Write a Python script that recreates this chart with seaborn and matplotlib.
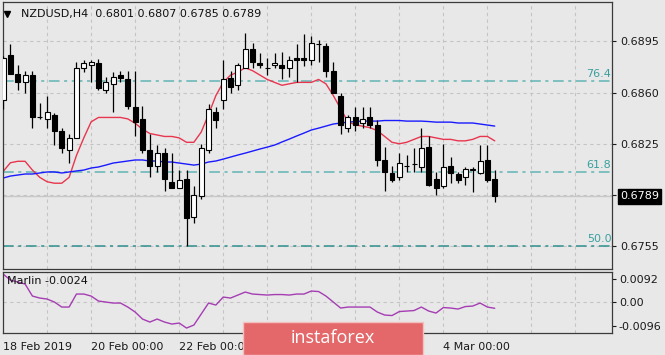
import numpy as np
import pandas as pd
import matplotlib
matplotlib.use("Agg")
import matplotlib.pyplot as plt
import seaborn as sns
from matplotlib.patches import Rectangle
from matplotlib.transforms import blended_transform_factory

# NZDUSD H4 candles, 18 Feb - 5 Mar 2019
opens = [0.6855, 0.6886, 0.6873, 0.6867, 0.6872, 0.6843, 0.6842, 0.6845, 0.6834, 0.6821,
         0.6829, 0.6877, 0.6879, 0.6880, 0.6862, 0.6866, 0.6872, 0.6869, 0.6850, 0.6842,
         0.6821, 0.6810, 0.6819, 0.6799, 0.6795, 0.6801, 0.6775, 0.6789, 0.6821, 0.6847,
         0.6855, 0.6870, 0.6865, 0.6877, 0.6890, 0.6880, 0.6877, 0.6879, 0.6879, 0.6877,
         0.6884, 0.6884, 0.6882, 0.6893, 0.6892, 0.6875, 0.6858, 0.6836, 0.6843, 0.6839,
         0.6843, 0.6838, 0.6814, 0.6805, 0.6802, 0.6810, 0.6811, 0.6809, 0.6823, 0.6801,
         0.6796, 0.6810, 0.6804, 0.6802, 0.6807, 0.6805, 0.6814, 0.6801]
highs = [0.6885, 0.6893, 0.6879, 0.6875, 0.6875, 0.6853, 0.6858, 0.6846, 0.6836, 0.6832,
         0.6881, 0.6882, 0.6882, 0.6883, 0.6871, 0.6874, 0.6875, 0.6875, 0.6875, 0.6851,
         0.6832, 0.6824, 0.6822, 0.6819, 0.6807, 0.6807, 0.6796, 0.6825, 0.6852, 0.6850,
         0.6882, 0.6875, 0.6880, 0.6901, 0.6894, 0.6887, 0.6884, 0.6887, 0.6888, 0.6885,
         0.6893, 0.6900, 0.6899, 0.6896, 0.6894, 0.6881, 0.6860, 0.6845, 0.6850, 0.6850,
         0.6850, 0.6841, 0.6823, 0.6810, 0.6819, 0.6817, 0.6822, 0.6836, 0.6830, 0.6806,
         0.6825, 0.6816, 0.6806, 0.6809, 0.6809, 0.6824, 0.6824, 0.6807]
lows = [0.6849, 0.6873, 0.6862, 0.6860, 0.6836, 0.6842, 0.6836, 0.6824, 0.6819, 0.6812,
        0.6829, 0.6874, 0.6867, 0.6862, 0.6860, 0.6847, 0.6867, 0.6849, 0.6830, 0.6819,
        0.6802, 0.6806, 0.6793, 0.6795, 0.6795, 0.6755, 0.6771, 0.6787, 0.6819, 0.6836,
        0.6849, 0.6860, 0.6862, 0.6877, 0.6877, 0.6877, 0.6872, 0.6877, 0.6869, 0.6871,
        0.6867, 0.6878, 0.6879, 0.6881, 0.6871, 0.6860, 0.6832, 0.6833, 0.6834, 0.6836,
        0.6836, 0.6810, 0.6793, 0.6799, 0.6800, 0.6806, 0.6806, 0.6806, 0.6796, 0.6790,
        0.6795, 0.6798, 0.6798, 0.6797, 0.6792, 0.6804, 0.6799, 0.6785]
closes = [0.6884, 0.6873, 0.6867, 0.6872, 0.6843, 0.6843, 0.6847, 0.6834, 0.6822, 0.6829,
          0.6877, 0.6880, 0.6881, 0.6863, 0.6867, 0.6871, 0.6870, 0.6851, 0.6840, 0.6821,
          0.6810, 0.6819, 0.6801, 0.6795, 0.6800, 0.6774, 0.6790, 0.6822, 0.6849, 0.6841,
          0.6869, 0.6864, 0.6879, 0.6890, 0.6881, 0.6879, 0.6877, 0.6880, 0.6877, 0.6882,
          0.6882, 0.6882, 0.6894, 0.6893, 0.6875, 0.6860, 0.6838, 0.6843, 0.6838, 0.6842,
          0.6838, 0.6814, 0.6806, 0.6800, 0.6812, 0.6810, 0.6811, 0.6822, 0.6797, 0.6795,
          0.6809, 0.6805, 0.6800, 0.6808, 0.6808, 0.6813, 0.6800, 0.6789]

# red and blue moving averages as drawn
red_ma = [0.6806, 0.6812, 0.6813, 0.6813, 0.6807, 0.6802, 0.6799, 0.6798, 0.6798, 0.6802,
          0.6817, 0.6829, 0.6840, 0.6843, 0.6843, 0.6843, 0.6843, 0.6842, 0.6839, 0.6835,
          0.6832, 0.6831, 0.6830, 0.6830, 0.6829, 0.6826, 0.6826, 0.6833, 0.6845, 0.6858,
          0.6867, 0.6872, 0.6874, 0.6877, 0.6875, 0.6872, 0.6869, 0.6867, 0.6865, 0.6866,
          0.6867, 0.6867, 0.6867, 0.6869, 0.6866, 0.6858, 0.6849, 0.6840, 0.6838, 0.6837,
          0.6836, 0.6834, 0.6830, 0.6826, 0.6825, 0.6826, 0.6828, 0.6830, 0.6830, 0.6829,
          0.6828, 0.6828, 0.6827, 0.6827, 0.6828, 0.6830, 0.6830, 0.6827]
blue_ma = [0.68015, 0.68029, 0.68036, 0.68043, 0.68043, 0.68050, 0.68057, 0.68057, 0.68050, 0.68057,
           0.68064, 0.68070, 0.68084, 0.68091, 0.68104, 0.68118, 0.68125, 0.68132, 0.68139, 0.68139,
           0.68132, 0.68132, 0.68125, 0.68125, 0.68118, 0.68111, 0.68104, 0.68111, 0.68125, 0.68132,
           0.68145, 0.68159, 0.68173, 0.68186, 0.68200, 0.68214, 0.68227, 0.68241, 0.68262, 0.68282,
           0.68303, 0.68323, 0.68344, 0.68357, 0.68371, 0.68385, 0.68392, 0.68398, 0.68402, 0.68405,
           0.68405, 0.68405, 0.68409, 0.68409, 0.68409, 0.68405, 0.68405, 0.68405, 0.68402, 0.68398,
           0.68398, 0.68398, 0.68392, 0.68392, 0.68392, 0.68385, 0.68378, 0.68371]

# Marlin oscillator
marlin = [0.0113, 0.0089, 0.0081, 0.0073, 0.0025, 0.0017, 0.0013, 0.0001, -0.0019, -0.0019,
          0.0033, 0.0033, 0.0025, 0.0005, 0.0001, -0.0003, -0.0003, -0.0019, -0.0039, -0.0067,
          -0.0079, -0.0067, -0.0079, -0.0087, -0.0083, -0.0103, -0.0091, -0.0047, -0.0003, -0.0011,
          0.0021, 0.0017, 0.0029, 0.0041, 0.0033, 0.0031, 0.0029, 0.0031, 0.0031, 0.0029,
          0.0033, 0.0033, 0.0045, 0.0043, 0.0025, 0.0001, -0.0023, -0.0019, -0.0019, -0.0019,
          -0.0019, -0.0039, -0.0051, -0.0053, -0.0037, -0.0035, -0.0033, -0.0019, -0.0035, -0.0043,
          -0.0021, -0.0023, -0.0027, -0.0017, -0.0015, -0.0003, -0.0019, -0.0024]

fib_levels = [0.67552, 0.68056, 0.68679]
fib_labels = ["50.0", "61.8", "76.4"]
fib_colors = ["#2f8f8f", "#62b4b4", "#62b4b4"]
price_ticks = [0.6755, 0.6790, 0.6825, 0.6860, 0.6895]
price_tick_labels = ["0.6755", "", "0.6825", "0.6860", "0.6895"]
last_price = 0.6789
marlin_ticks = [-0.0096, 0.0, 0.0092]
marlin_tick_labels = ["-0.0096", "0.00", "0.0092"]
# 26 Feb and 28 Feb labels sit under the watermark in the original
date_ticks = [0, 12, 24, 36, 48, 60]
date_labels = ["18 Feb 2019", "20 Feb 00:00", "22 Feb 00:00", "", "", "4 Mar 00:00"]
title_text = "NZDUSD,H4  0.6801 0.6807 0.6785 0.6789"

BG = "#e8e8e8"
FS = 8.0

sns.set_style("white", rc={"axes.facecolor": BG, "figure.facecolor": BG,
                           "axes.edgecolor": "#3a3a3a"})
plt.rcParams["font.family"] = ["DejaVu Sans"]

idx = np.arange(len(opens))
df = pd.DataFrame({"i": idx, "open": opens, "high": highs, "low": lows,
                   "close": closes, "red": red_ma, "blue": blue_ma, "marlin": marlin})

fig = plt.figure(figsize=(6.65, 3.55), dpi=100)
W, H = 665, 355
ax = fig.add_axes([2.7 / W, 1 - 269 / H, (612 - 2.7) / W, (269 - 2) / H])
axm = fig.add_axes([2.7 / W, 1 - 332.7 / H, (612 - 2.7) / W, (332.7 - 271.7) / H])

xmin, xmax = -0.05, 82.98
grid_x = np.arange(6, 83, 6)

# ---- main panel ----
for g in grid_x:
    ax.axvline(g, color="#c4c4c4", lw=0.8, ls=(0, (3, 3)), zorder=0)
for p in price_ticks:
    ax.axhline(p, color="#c4c4c4", lw=0.8, ls=(0, (3, 3)), zorder=0)
ax.axhline(last_price, color="#c8c8c8", lw=1.0, zorder=0.5)

for lvl, lab, col in zip(fib_levels, fib_labels, fib_colors):
    ax.axhline(lvl, color=col, lw=1.1, ls=(0, (7, 3, 2, 3)), zorder=1)
    ax.text(0.999, lvl + 0.00012, lab, transform=blended_transform_factory(ax.transAxes, ax.transData),
            ha="right", va="bottom", fontsize=FS, color="#3a9f9f")

sns.lineplot(data=df, x="i", y="red", ax=ax, color="#e8364f", lw=1.0, zorder=2)
sns.lineplot(data=df, x="i", y="blue", ax=ax, color="#1a1aff", lw=1.0, zorder=2)

ax.vlines(df["i"], df["low"], df["high"], color="black", lw=0.9, zorder=3)
body_low = np.minimum(df["open"], df["close"])
body_h = np.maximum(np.abs(df["close"] - df["open"]), 0.00001)
colors = np.where(df["close"] >= df["open"], "white", "black")
ax.bar(df["i"], body_h, bottom=body_low, width=0.68, color=colors,
       edgecolor="black", linewidth=0.8, zorder=4)

ax.set_xlim(xmin, xmax)
ax.set_ylim(0.67393, 0.69220)
ax.set_xticks(grid_x)
ax.set_xticklabels([])
ax.tick_params(axis="x", length=0)
ax.yaxis.tick_right()
ax.set_yticks(price_ticks)
ax.set_yticklabels(price_tick_labels)
ax.tick_params(axis="y", direction="out", length=3, width=0.8, pad=3,
               labelsize=FS, colors="#1a1a1a")
ax.set_xlabel("")
ax.set_ylabel("")
for s in ax.spines.values():
    s.set_linewidth(0.9)

ax.text(1.013, last_price, "0.6789", transform=blended_transform_factory(ax.transAxes, ax.transData),
        ha="left", va="center", fontsize=FS, color="white",
        bbox=dict(boxstyle="square,pad=0.2", fc="black", ec="black"))

ax.text(0.030, 0.955, title_text, transform=ax.transAxes, ha="left", va="center",
        fontsize=FS, color="#101010")
ax.plot([0.0075], [0.955], marker="v", color="black", markersize=5,
        transform=ax.transAxes, clip_on=False)

# ---- Marlin panel ----
for g in grid_x:
    axm.axvline(g, color="#c4c4c4", lw=0.8, ls=(0, (3, 3)), zorder=0)
axm.axhline(0, color="#c4c4c4", lw=0.8, ls=(0, (3, 3)), zorder=0)
sns.lineplot(data=df, x="i", y="marlin", ax=axm, color="#a53db3", lw=1.0, zorder=2)
axm.set_xlim(xmin, xmax)
axm.set_ylim(-0.01216, 0.01224)
axm.yaxis.tick_right()
axm.set_yticks(marlin_ticks)
axm.set_yticklabels(marlin_tick_labels)
axm.set_xticks(date_ticks)
axm.set_xticklabels(date_labels, ha="left")
axm.tick_params(axis="y", direction="out", length=3, width=0.8, pad=2,
                labelsize=FS, colors="#1a1a1a")
axm.tick_params(axis="x", direction="out", length=4, width=0.8, pad=3,
                labelsize=FS, colors="#1a1a1a")
axm.set_xlabel("")
axm.set_ylabel("")
for s in axm.spines.values():
    s.set_linewidth(0.9)
axm.text(0.007, 0.84, "Marlin -0.0024", transform=axm.transAxes, ha="left", va="center",
         fontsize=FS, color="#101010")

# ---- watermark ----
fig.add_artist(Rectangle((243 / W, 0), (423 - 243) / W, (355 - 322) / H,
                         transform=fig.transFigure, fc="#e4686a", ec="#f3c0c0", lw=1.0, zorder=10))
fig.text(333 / W, 1 - 338 / H, "instaforex", ha="center", va="center", color="white",
         fontsize=13, family=["Open Sans", "DejaVu Sans"], zorder=11)

fig.savefig("out.png", dpi=100, facecolor=BG)
